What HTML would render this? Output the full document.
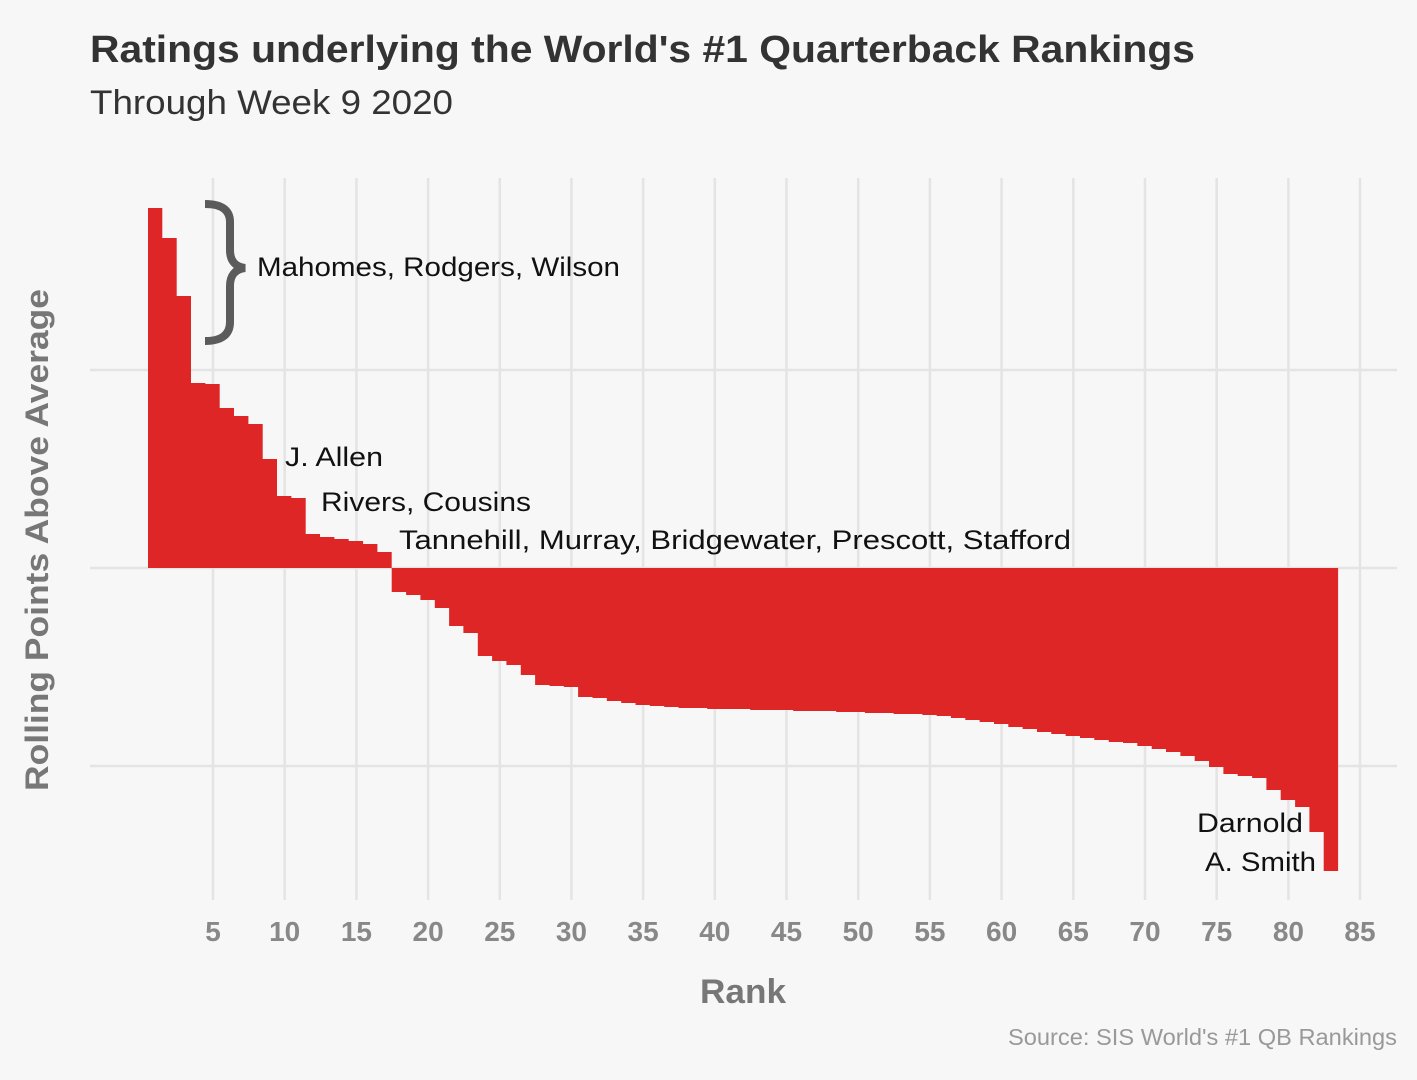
<!DOCTYPE html>
<html><head><meta charset="utf-8"><style>html,body{margin:0;padding:0;background:#f7f7f7}svg{display:block}</style></head>
<body>
<svg width="1417" height="1080" viewBox="0 0 1417 1080" xmlns="http://www.w3.org/2000/svg">
<rect width="1417" height="1080" fill="#f7f7f7"/>
<g stroke="#e4e4e4" stroke-width="2.5">
<line x1="90" y1="370" x2="1397" y2="370"/>
<line x1="90" y1="568" x2="1397" y2="568"/>
<line x1="90" y1="766" x2="1397" y2="766"/>
<line x1="213" y1="178" x2="213" y2="900"/><line x1="284.7" y1="178" x2="284.7" y2="900"/><line x1="356.4" y1="178" x2="356.4" y2="900"/><line x1="428.1" y1="178" x2="428.1" y2="900"/><line x1="499.8" y1="178" x2="499.8" y2="900"/><line x1="571.4" y1="178" x2="571.4" y2="900"/><line x1="643.1" y1="178" x2="643.1" y2="900"/><line x1="714.8" y1="178" x2="714.8" y2="900"/><line x1="786.5" y1="178" x2="786.5" y2="900"/><line x1="858.2" y1="178" x2="858.2" y2="900"/><line x1="929.9" y1="178" x2="929.9" y2="900"/><line x1="1001.6" y1="178" x2="1001.6" y2="900"/><line x1="1073.3" y1="178" x2="1073.3" y2="900"/><line x1="1145" y1="178" x2="1145" y2="900"/><line x1="1216.7" y1="178" x2="1216.7" y2="900"/><line x1="1288.4" y1="178" x2="1288.4" y2="900"/><line x1="1360" y1="178" x2="1360" y2="900"/>
</g>
<path fill="#de2626" d="M148 568 V208 H162.3 V238 H176.7 V296 H191 V383 H205.4 V384 H219.7 V408 H234 V416 H248.4 V424 H262.7 V459 H277 V496 H291.4 V498 H305.7 V534 H320 V537 H334.4 V539 H348.7 V541 H363.1 V544 H377.4 V552 H391.7 V592 H406.1 V595 H420.4 V600 H434.8 V608 H449.1 V626 H463.4 V633 H477.8 V656 H492.1 V661 H506.4 V665 H520.8 V675 H535.1 V685 H549.5 V686 H563.8 V687 H578.1 V697 H592.5 V698 H606.8 V701 H621.2 V703 H635.5 V705 H649.8 V706 H664.2 V707 H678.5 V708 H692.8 V708 H707.2 V709 H721.5 V709 H735.9 V709 H750.2 V710 H764.5 V710 H778.9 V710 H793.2 V711 H807.6 V711 H821.9 V711 H836.2 V712 H850.6 V712 H864.9 V713 H879.2 V713 H893.6 V714 H907.9 V714 H922.3 V715 H936.6 V716 H950.9 V718 H965.3 V720 H979.6 V722 H994 V724 H1008.3 V727 H1022.6 V729 H1037 V732 H1051.3 V734 H1065.6 V736 H1080 V738 H1094.3 V740 H1108.7 V742 H1123 V743 H1137.3 V746 H1151.7 V749 H1166 V752 H1180.4 V756 H1194.7 V761 H1209 V767 H1223.4 V774 H1237.7 V776 H1252.1 V778 H1266.4 V790 H1280.7 V800 H1295.1 V807 H1309.4 V832 H1323.7 V871 H1338.1 V568 Z"/>
<path d="M205 204 Q230 204 230 222 V250 Q230 266 245 268 Q230 270 230 286 V322 Q230 341 205 341" fill="none" stroke="#5b5b5b" stroke-width="8"/>
<g font-family="'Liberation Sans Narrow','Liberation Sans',sans-serif" fill="#111" font-size="27">
<text x="257" y="276" textLength="363" lengthAdjust="spacingAndGlyphs">Mahomes, Rodgers, Wilson</text>
<text x="285" y="466" textLength="98" lengthAdjust="spacingAndGlyphs">J. Allen</text>
<text x="321" y="511" textLength="210" lengthAdjust="spacingAndGlyphs">Rivers, Cousins</text>
<text x="399" y="549" textLength="672" lengthAdjust="spacingAndGlyphs">Tannehill, Murray, Bridgewater, Prescott, Stafford</text>
<text x="1197" y="832" textLength="106" lengthAdjust="spacingAndGlyphs">Darnold</text>
<text x="1205" y="871" textLength="111" lengthAdjust="spacingAndGlyphs">A. Smith</text>
</g>
<g font-family="'Liberation Sans Narrow','Liberation Sans',sans-serif">
<text x="90" y="62" font-size="38" font-weight="bold" fill="#333" textLength="1105" lengthAdjust="spacingAndGlyphs">Ratings underlying the World's #1 Quarterback Rankings</text>
<text x="90" y="114" font-size="34" fill="#333" textLength="363" lengthAdjust="spacingAndGlyphs">Through Week 9 2020</text>
<g font-size="28" font-weight="bold" fill="#888" text-anchor="middle">
<text x="213" y="941">5</text><text x="284.7" y="941">10</text><text x="356.4" y="941">15</text><text x="428.1" y="941">20</text><text x="499.8" y="941">25</text><text x="571.4" y="941">30</text><text x="643.1" y="941">35</text><text x="714.8" y="941">40</text><text x="786.5" y="941">45</text><text x="858.2" y="941">50</text><text x="929.9" y="941">55</text><text x="1001.6" y="941">60</text><text x="1073.3" y="941">65</text><text x="1145" y="941">70</text><text x="1216.7" y="941">75</text><text x="1288.4" y="941">80</text><text x="1360" y="941">85</text>
</g>
<text x="743" y="1003" font-size="34" font-weight="bold" fill="#777" text-anchor="middle" textLength="86" lengthAdjust="spacingAndGlyphs">Rank</text>
<text transform="translate(48,540) rotate(-90)" font-size="32" font-weight="bold" fill="#777" text-anchor="middle" textLength="502" lengthAdjust="spacingAndGlyphs">Rolling Points Above Average</text>
<text x="1397" y="1045" font-size="23" fill="#999" text-anchor="end" textLength="389" lengthAdjust="spacingAndGlyphs">Source: SIS World's #1 QB Rankings</text>
</g>
</svg>
</body></html>
